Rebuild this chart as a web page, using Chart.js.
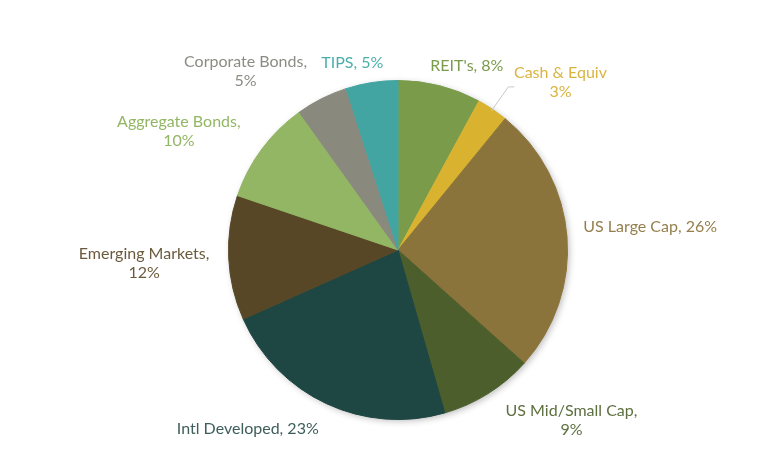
<!DOCTYPE html>
<html lang="en">
<head>
<meta charset="UTF-8">
<script src="https://cdn.jsdelivr.net/npm/chart.js@4.4.1/dist/chart.umd.min.js"></script>
<title>Allocation</title>
<style>
  html, body { margin: 0; padding: 0; background: #fff; }
  #wrap { width: 768px; height: 464px; }
</style>
</head>
<body>
<div id="wrap"><canvas id="chart1"></canvas></div>
<script>
// data
var categories = ["REIT's", "Cash & Equiv", "US Large Cap", "US Mid/Small Cap", "Intl Developed",
                  "Emerging Markets", "Aggregate Bonds", "Corporate Bonds", "TIPS"];
var values = [8, 3, 26, 9, 23, 12, 10, 5, 5];
var labelLines = [
    ["REIT's, 8%"],
    ["Cash & Equiv", "3%"],
    ["US Large Cap, 26%"],
    ["US Mid/Small Cap,", "9%"],
    ["Intl Developed, 23%"],
    ["Emerging Markets,", "12%"],
    ["Aggregate Bonds,", "10%"],
    ["Corporate Bonds,", "5%"],
    ["TIPS, 5%"]
];

// styles
var sliceColors = ['#7a9c4a', '#d9b330', '#8b743b', '#4b5e2b', '#1e4643',
                   '#574726', '#93b665', '#8a897e', '#42a5a1'];
var textColors = ['#7a9c4a', '#d9b440', '#957f4d', '#5e7040', '#3d5e5a',
                  '#6b5a3c', '#93b665', '#8c8c84', '#4aafab'];
// label placement: angle (deg, clockwise from top) and distance in pie radii
var labelPos = [[20.5, 1.16], [44.1, 1.377], [84.8, 1.494], [134.5, 1.435], [220.1, 1.376],
                [267.1, 1.50], [298.4, 1.47], [319.5, 1.385], [346.3, 1.138]];

var shadowPlugin = {
    id: 'shadow',
    beforeDatasetsDraw(chart) {
        var arc = chart.getDatasetMeta(0).data[0];
        var c = chart.ctx;
        c.save();
        c.shadowColor = 'rgba(0,0,0,0.28)';
        c.shadowBlur = 7;
        c.shadowOffsetX = 2;
        c.shadowOffsetY = 2;
        c.fillStyle = '#fff';
        c.beginPath();
        c.arc(arc.x, arc.y, arc.outerRadius - 0.5, 0, Math.PI * 2);
        c.fill();
        c.restore();
    }
};

var labelPlugin = {
    id: 'sliceLabels',
    afterDatasetsDraw(chart) {
        var meta = chart.getDatasetMeta(0);
        var c = chart.ctx;
        var cx = meta.data[0].x, cy = meta.data[0].y, r = meta.data[0].outerRadius;
        c.save();
        c.font = '16px Lato, "Open Sans", sans-serif';
        c.textAlign = 'center';
        c.textBaseline = 'middle';
        labelLines.forEach(function (lines, i) {
            var a = labelPos[i][0] * Math.PI / 180;
            var d = labelPos[i][1] * r;
            var x = cx + Math.sin(a) * d;
            var y = cy - Math.cos(a) * d;
            c.fillStyle = textColors[i];
            var y0 = y - (lines.length - 1) * 9.5;
            lines.forEach(function (t, k) {
                c.fillText(t, x, y0 + k * 19);
            });
        });
        // leader line for the thin cash slice
        var cash = meta.data[1];
        var mid = (cash.startAngle + cash.endAngle) / 2;
        var px = cx + Math.cos(mid) * (r - 2);
        var py = cy + Math.sin(mid) * (r - 2);
        c.strokeStyle = '#c8c8c8';
        c.lineWidth = 1;
        c.beginPath();
        c.moveTo(px, py);
        c.lineTo(px + 17, py - 24);
        c.lineTo(px + 23, py - 24);
        c.stroke();
        c.restore();
    }
};

var ctx = document.getElementById('chart1').getContext('2d');
var myChart = new Chart(ctx, {
    type: 'pie',
    data: {
        labels: categories,
        datasets: [{
            data: values,
            backgroundColor: sliceColors,
            borderColor: sliceColors,
            borderWidth: 1
        }]
    },
    options: {
        responsive: true,
        maintainAspectRatio: false,
        animation: false,
        layout: { padding: { top: 80, bottom: 44, left: 100, right: 72 } },
        plugins: {
            legend: { display: false },
            tooltip: { enabled: false }
        }
    },
    plugins: [shadowPlugin, labelPlugin]
});
</script>
</body>
</html>
